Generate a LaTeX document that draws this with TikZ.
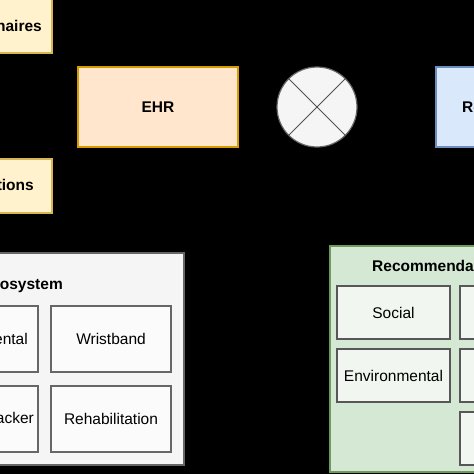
\documentclass[tikz,border=0pt]{standalone}
\usepackage{fontspec}
\setmainfont{Liberation Sans}
\usetikzlibrary{shapes}
\definecolor{yelfill}{HTML}{FFF2CC} \definecolor{yelline}{HTML}{D6B656}
\definecolor{orgfill}{HTML}{FFE6CC} \definecolor{orgline}{HTML}{D79B00}
\definecolor{blufill}{HTML}{DAE8FC} \definecolor{bluline}{HTML}{6C8EBF}
\definecolor{gryfill}{HTML}{F5F5F5} \definecolor{gryline}{HTML}{666666}
\definecolor{grnfill}{HTML}{D5E8D4} \definecolor{grnline}{HTML}{6E9A5C}
\definecolor{grnbox}{HTML}{F1F7F0} \definecolor{devfill}{HTML}{FBFBFB}
\tikzstyle{bx}=[rectangle,line width=1.2pt,inner sep=0pt,font=\fontsize{15.5}{18}\selectfont]
\tikzstyle{src}=[bx,draw=yelline,fill=yelfill,minimum width=132pt,minimum height=54pt]
\tikzstyle{big}=[bx,minimum width=160pt,minimum height=80pt,font=\fontsize{15.5}{18}\selectfont\bfseries]
\tikzstyle{dev}=[bx,draw=gryline,fill=devfill,minimum width=120pt,minimum height=66pt]
\tikzstyle{rec}=[bx,draw=gryline!85!black,fill=grnbox,minimum width=113pt,minimum height=53pt]
\tikzstyle{ttl}=[inner sep=0pt,font=\fontsize{15.5}{18}\selectfont\bfseries]
\tikzstyle{txt}=[inner sep=0pt,font=\fontsize{15.5}{18}\selectfont]

\begin{document}
\begin{tikzpicture}[x=1pt,y=-1pt]
\useasboundingbox (0,0) rectangle (474,474);
\fill[black] (0,0) rectangle (474,474);
% sources
\node[src] (qst) at (-14,26) {}; \node[ttl,anchor=east] (qstT) at (42,27) {Questionnaires};
\node[src] (prs) at (-14,186) {}; \node[ttl,anchor=east] (prsT) at (34,186) {Prescriptions};
\node[big,draw=orgline,fill=orgfill] (ehr) at (158,107) {EHR};
\node[circle,draw=gryline,fill=gryfill,line width=1.2pt,minimum size=80pt,inner sep=0pt] (mix) at (317,107) {};
\draw[gryline!80!black,line width=1pt] (mix.north west) -- (mix.south east); \draw[gryline!80!black,line width=1pt] (mix.north east) -- (mix.south west);
\node[big,draw=bluline,fill=blufill] (rcm) at (516,107) {Recommender};
% ecosystem
\node[bx,draw=gryline,fill=gryfill,minimum width=294pt,minimum height=212pt] (eco) at (37,359) {};
\node[ttl,anchor=east] (ecoT) at (63,286) {IoT Ecosystem};
\node[dev] (env) at (-22,339) {}; \node[txt,anchor=east] (envT) at (28,339) {Environmental};
\node[dev] (wrb) at (111,339) {Wristband};
\node[dev] (trk) at (-22,419) {}; \node[txt,anchor=east] (trkT) at (34,419) {Activity Tracker};
\node[dev] (rhb) at (111,419) {Rehabilitation};
% recommendations
\node[bx,draw=grnline,fill=grnfill,minimum width=290pt,minimum height=226pt] (rec) at (475,359) {};
\node[ttl,anchor=west] (recT) at (372,266) {Recommendations};
\node[rec] (soc) at (393.5,312.5) {Social};
\node[rec] (ren) at (393.5,375.5) {Environmental};
\node[rec] (ra) at (516.5,312.5) {}; \node[rec] (rb) at (516.5,375.5) {}; \node[rec] (rc) at (516.5,438.5) {};
\end{tikzpicture}
\end{document}
